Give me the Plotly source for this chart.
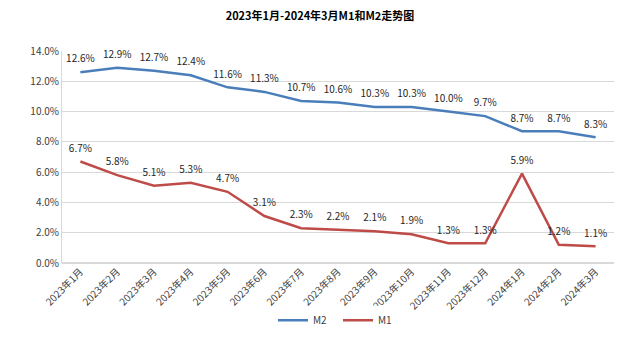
import plotly.graph_objects as go

categories = ["2023年1月","2023年2月","2023年3月","2023年4月","2023年5月","2023年6月","2023年7月",
              "2023年8月","2023年9月","2023年10月","2023年11月","2023年12月","2024年1月","2024年2月","2024年3月"]
m2 = [12.6, 12.9, 12.7, 12.4, 11.6, 11.3, 10.7, 10.6, 10.3, 10.3, 10.0, 9.7, 8.7, 8.7, 8.3]
m1 = [6.7, 5.8, 5.1, 5.3, 4.7, 3.1, 2.3, 2.2, 2.1, 1.9, 1.3, 1.3, 5.9, 1.2, 1.1]
y_ticks = [0, 2, 4, 6, 8, 10, 12, 14]

font = "Noto Sans CJK SC, Microsoft YaHei, sans-serif"

fig = go.Figure()
for name, vals, color in [("M2", m2, "#4A7EBB"), ("M1", m1, "#BE4B48")]:
    fig.add_trace(go.Scatter(
        x=categories, y=vals, name=name, mode="lines",
        line=dict(color=color, width=2.5),
    ))
for name, vals in [("M2", m2), ("M1", m1)]:
    fig.add_trace(go.Scatter(
        x=categories, y=vals, name=name, mode="markers+text", showlegend=False,
        marker=dict(size=10, opacity=0),
        text=[f"{v:.1f}%" for v in vals], textposition="top center",
        textfont=dict(size=10, color="#262626", family=font),
        cliponaxis=False, hoverinfo="skip",
    ))

fig.update_layout(
    width=640, height=349,
    margin=dict(l=62, r=26, t=51, b=86),
    paper_bgcolor="white", plot_bgcolor="white",
    font=dict(family=font, size=10, color="#404040"),
    title=dict(text="<b>2023年1月-2024年3月M1和M2走势图</b>", x=0.5, xanchor="center",
               y=0.955, yanchor="middle", font=dict(size=11, color="#000000", family=font)),
    showlegend=True,
    legend=dict(orientation="h", x=0.5, xanchor="center", y=-0.27, yanchor="middle",
                font=dict(size=10, color="#404040"), itemwidth=30,
                entrywidth=20, entrywidthmode="pixels"),
    xaxis=dict(type="category", range=[-0.5, 14.5], tickangle=-45, showgrid=False,
               showline=False, automargin=False,
               ticks="", tickfont=dict(size=10, color="#404040")),
    yaxis=dict(range=[0, 14], tickvals=y_ticks, ticktext=[f"{v:.1f}%" for v in y_ticks],
               automargin=False,
               showgrid=True, gridcolor="#D9D9D9", gridwidth=1, zeroline=True,
               zerolinecolor="#D9D9D9", showline=True, linecolor="#D9D9D9",
               tickfont=dict(size=10, color="#404040"), ticks=""),
)
fig.write_html("out.html")
